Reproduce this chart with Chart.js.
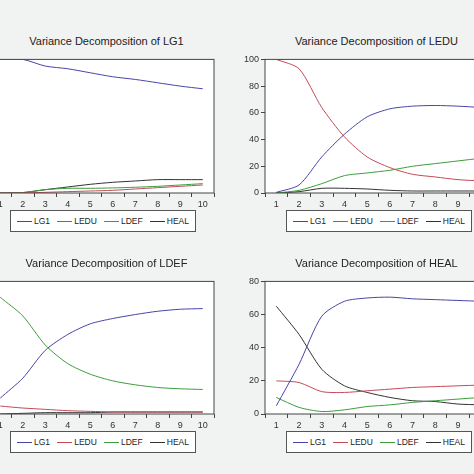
<!DOCTYPE html>
<html>
<head>
<script src="https://cdn.jsdelivr.net/npm/chart.js@4"></script>
<style>
  body { margin: 0; width: 474px; height: 474px; overflow: hidden; background: #f1f2f2; position: relative; font-family: 'Liberation Sans', Arial, sans-serif; }
  canvas { position: absolute; }
  .title { position: absolute; font-size: 11px; color: #222; text-align: center; width: 240px; }
  .legend { position: absolute; height: 22px; border: 1px solid #555; background: #fff; font-size: 8.5px; color: #222; display: flex; align-items: center; justify-content: space-between; box-sizing: border-box; padding: 0 6px; }
  .legend span { display: inline-flex; align-items: center; }
  .legend i { display: inline-block; width: 15px; height: 0; border-top: 1.2px solid; margin-right: 2px; }
</style>
</head>
<body>
<script>
const steps = ['1', '2', '3', '4', '5', '6', '7', '8', '9', '10']
const seriesNames = ['LG1', 'LEDU', 'LDEF', 'HEAL']
const colors = ['#4646a8', '#c44a58', '#3c9e3c', '#333333']

// variance decomposition of LG1
const lg1_LG1 = [100, 100, 95, 93, 90, 87, 85, 82.5, 80, 78]
const lg1_LEDU = [0, 0, 0.5, 1, 1.5, 2, 3, 4, 5, 6]
const lg1_LDEF = [0, 0.3, 2.5, 3.5, 3.5, 3.8, 4.3, 5, 6, 7]
const lg1_HEAL = [0, 0.3, 2.5, 4.5, 6.5, 8, 9, 10, 10, 10]
// variance decomposition of LEDU
const ledu_LG1 = [0.5, 6, 27, 44, 57, 63, 65, 65.5, 65, 64]
const ledu_LEDU = [100, 93, 64, 42, 27, 19, 14, 12, 10, 9]
const ledu_LDEF = [0, 2, 7, 13, 15, 17, 20, 22, 24, 26]
const ledu_HEAL = [0, 1, 3.5, 3.5, 3, 2, 1.5, 1.5, 1.5, 1.5]
// variance decomposition of LDEF
const ldef_LG1 = [12, 27, 48, 60, 68, 72, 75, 77.5, 79, 79.5]
const ldef_LEDU = [6, 4.5, 3.5, 2.5, 2, 1.5, 1.5, 1.5, 1.5, 1.5]
const ldef_LDEF = [88, 74, 52, 38, 30, 25, 22, 20, 19, 18.5]
const ldef_HEAL = [0, 0.5, 1, 1, 1, 1.5, 1.5, 1.5, 1.5, 1.5]
// variance decomposition of HEAL
const heal_LG1 = [5, 30, 59, 68, 70, 70.5, 69.5, 69, 68.5, 68]
const heal_LEDU = [20, 19, 13.5, 13, 14, 15, 16, 16.5, 17, 17.5]
const heal_LDEF = [10, 4, 1.5, 2.5, 4.5, 5.5, 7, 8, 9, 10]
const heal_HEAL = [65, 48, 27, 17, 13, 10, 8, 7.5, 6, 5.5]

const frame = {
  id: 'frame',
  afterDraw(chart) {
    const a = chart.chartArea, c = chart.ctx
    c.save()
    c.strokeStyle = '#444'
    c.lineWidth = 1
    c.strokeRect(a.left, a.top, a.right - a.left, a.bottom - a.top)
    c.restore()
  },
  beforeDraw(chart) {
    const a = chart.chartArea, c = chart.ctx
    c.save()
    c.fillStyle = '#fff'
    c.fillRect(a.left, a.top, a.right - a.left, a.bottom - a.top)
    c.restore()
  },
}

const panel = (title, data, yMax, yStep, left, top, w, h) => {
  const cv = document.createElement('canvas')
  cv.style.left = (left - 30) + 'px'
  cv.style.top = (top - 5) + 'px'
  cv.width = w + 35
  cv.height = h + 25
  cv.style.width = (w + 35) + 'px'
  cv.style.height = (h + 25) + 'px'
  document.body.appendChild(cv)

  const t = document.createElement('div')
  t.className = 'title'
  t.textContent = title
  t.style.left = (left + w / 2 - 120 - (left < 0 ? -5 : 2)) + 'px'
  t.style.top = (top - 22) + 'px'
  document.body.appendChild(t)

  const lg = document.createElement('div')
  lg.className = 'legend'
  lg.style.left = (left + 21) + 'px'
  lg.style.top = (top + h + 17) + 'px'
  lg.style.width = '186px'
  lg.innerHTML = seriesNames.map((n, i) => '<span><i style="border-color:' + colors[i] + '"></i>' + n + '</span>').join('')
  document.body.appendChild(lg)

  new Chart(cv, {
    type: 'line',
    data: {
      labels: steps,
      datasets: data.map((d, i) => ({
        label: seriesNames[i],
        data: d,
        borderColor: colors[i],
        borderWidth: 1,
        pointRadius: 0,
        tension: 0.25,
      })),
    },
    options: {
      responsive: false,
      animation: false,
      layout: { padding: { top: 5, right: 5 } },
      plugins: { legend: { display: false }, tooltip: { enabled: false } },
      scales: {
        x: {
          offset: true,
          grid: { display: true, drawOnChartArea: false, tickLength: 4, color: '#444', offset: true },
          border: { display: false },
          ticks: { color: '#333', font: { size: 9 }, maxRotation: 0, padding: 2 },
          afterFit: (s) => { s.height = 20 },
        },
        y: {
          min: 0,
          max: yMax,
          grid: { display: true, drawOnChartArea: false, tickLength: 4, color: '#444' },
          border: { display: false },
          ticks: { stepSize: yStep, color: '#333', font: { size: 9 }, padding: 2 },
          afterFit: (s) => { s.width = 30 },
        },
      },
    },
    plugins: [frame],
  })
}

const onPageLoad = () => {
  panel('Variance Decomposition of LG1', [lg1_LG1, lg1_LEDU, lg1_LDEF, lg1_HEAL], 100, 20, -11, 57, 225, 136)
  panel('Variance Decomposition of LEDU', [ledu_LG1, ledu_LEDU, ledu_LDEF, ledu_HEAL], 100, 20, 265, 57, 227, 136)
  panel('Variance Decomposition of LDEF', [ldef_LG1, ldef_LEDU, ldef_LDEF, ldef_HEAL], 100, 20, -11, 279, 225, 135)
  panel('Variance Decomposition of HEAL', [heal_LG1, heal_LEDU, heal_LDEF, heal_HEAL], 80, 20, 265, 279, 227, 135)
}

document.addEventListener('DOMContentLoaded', onPageLoad)
</script>
</body>
</html>
